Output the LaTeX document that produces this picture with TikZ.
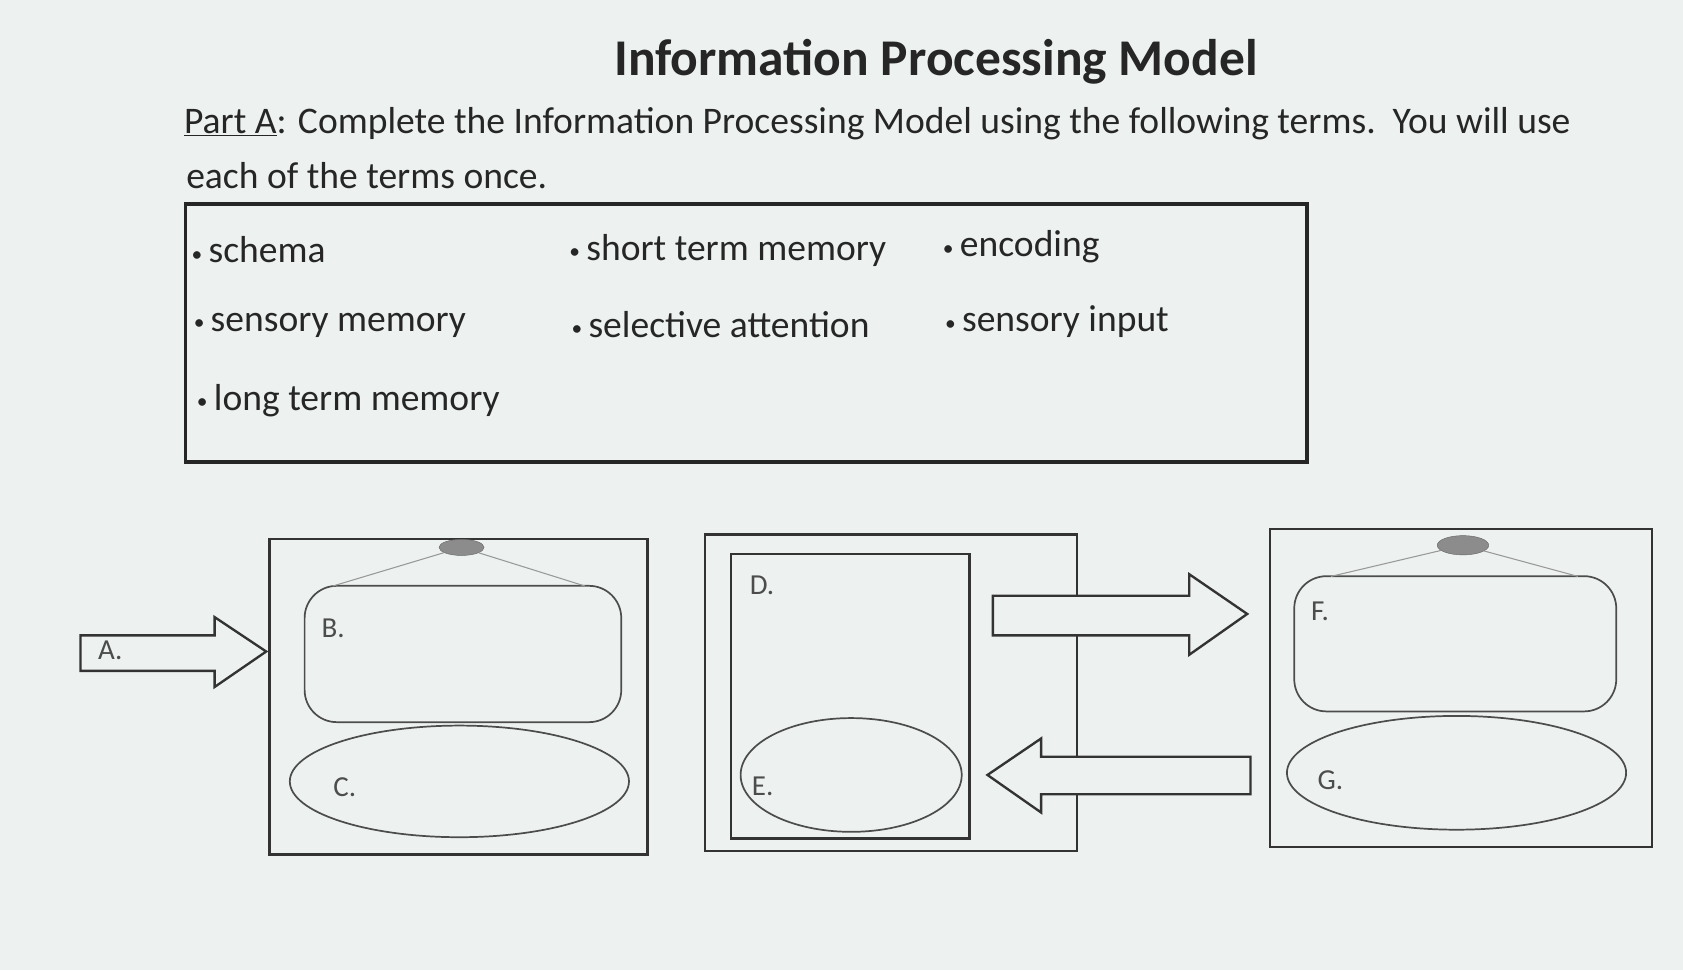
\documentclass[tikz,border=0pt]{standalone}
\usepackage{fontspec}
\usetikzlibrary{shapes.geometric}
\setmainfont{Carlito}
\definecolor{bg}{HTML}{EDF2F1}
\newcommand{\bul}{{\fontsize{20}{20}\selectfont\raisebox{0.15ex}{•}}\,}
\begin{document}
\begin{tikzpicture}[x=1pt,y=-1pt,
  ln/.style={draw=black!80,line width=2.2pt},
  thin/.style={draw=black!70,line width=1.6pt},
  term/.style={anchor=west,font=\fontsize{35}{38}\selectfont,text=black!85},
  lab/.style={anchor=west,font=\fontsize{27}{29}\selectfont,text=black!70}]
\fill[bg] (0,0) rectangle (1568,904);
\useasboundingbox (0,0) rectangle (1568,904);
\node[font=\bfseries\fontsize{48}{52}\selectfont,text=black!85] (title) at (872,58) {Information Processing Model};
\node[term,anchor=base west] (l1) at (168,124) {\underline{Part A}: Complete the Information Processing Model using the following terms.\ \ You will use};
\node[term,anchor=base west] (l2) at (170,176) {each of the terms once.};
\node[draw=black!85,line width=3.5pt,minimum width=1045pt,minimum height=241pt,anchor=north west] (tbox) at (171,188) {};
\node[term] (t1) at (175,233) {\bul schema};
\node[term] (t2) at (527,233) {\bul short term memory};
\node[term] (t3) at (875,230) {\bul encoding};
\node[term] (t4) at (177,303) {\bul sensory memory};
\node[term] (t5) at (529,302) {\bul selective attention};
\node[term] (t6) at (877,300) {\bul sensory input};
\node[term] (t7) at (180,373) {\bul long term memory};
% arrow A
\draw[ln,fill=bg] (75,592) -- (200,592) -- (200,575) -- (248,607) -- (200,640) -- (200,625) -- (75,625) -- cycle;
\node[lab] (A) at (88,606) {A.};
% box 1
\node[ln,minimum width=352pt,minimum height=294pt,anchor=north west] (b1) at (250,501) {};
\node[thin,rounded corners=30pt,minimum width=295pt,minimum height=127pt,anchor=north west] (B) at (283,545) {};
\node[thin,ellipse,minimum width=316pt,minimum height=104pt] (C) at (428,728) {};
\node[draw=black!60,fill=black!45,ellipse,minimum width=42pt,minimum height=15pt,inner sep=0pt] (g1) at (430,510) {};
\draw[black!40,line width=1pt] (g1) -- (310,546) (g1) -- (545,546);
\node[lab] at (296,585) {B.};
\node[lab] at (307,733) {C.};
% box 2
\node[ln,minimum width=346pt,minimum height=295pt,anchor=north west] (b2) at (656,497) {};
\node[ln,minimum width=222pt,minimum height=265pt,anchor=north west] (D) at (680,515) {};
\node[thin,ellipse,minimum width=206pt,minimum height=106pt] (E) at (793,722) {};
\node[lab] at (695,545) {D.};
\node[lab] at (697,733) {E.};
% arrows
\draw[ln,fill=bg] (925,555) -- (1108,555) -- (1108,535) -- (1162,572) -- (1108,610) -- (1108,592) -- (925,592) -- cycle;
\draw[ln,fill=bg] (1165,705) -- (970,705) -- (970,688) -- (920,722) -- (970,757) -- (970,740) -- (1165,740) -- cycle;
% box 3
\node[ln,minimum width=356pt,minimum height=296pt,anchor=north west] (b3) at (1182,492) {};
\node[thin,rounded corners=30pt,minimum width=300pt,minimum height=126pt,anchor=north west] (F) at (1205,536) {};
\node[thin,ellipse,minimum width=316pt,minimum height=106pt] (G) at (1357,720) {};
\node[draw=black!60,fill=black!45,ellipse,minimum width=48pt,minimum height=18pt,inner sep=0pt] (g2) at (1363,508) {};
\draw[black!40,line width=1pt] (g2) -- (1240,537) (g2) -- (1470,537);
\node[lab] at (1218,570) {F.};
\node[lab] at (1224,727) {G.};
\end{tikzpicture}
\end{document}
